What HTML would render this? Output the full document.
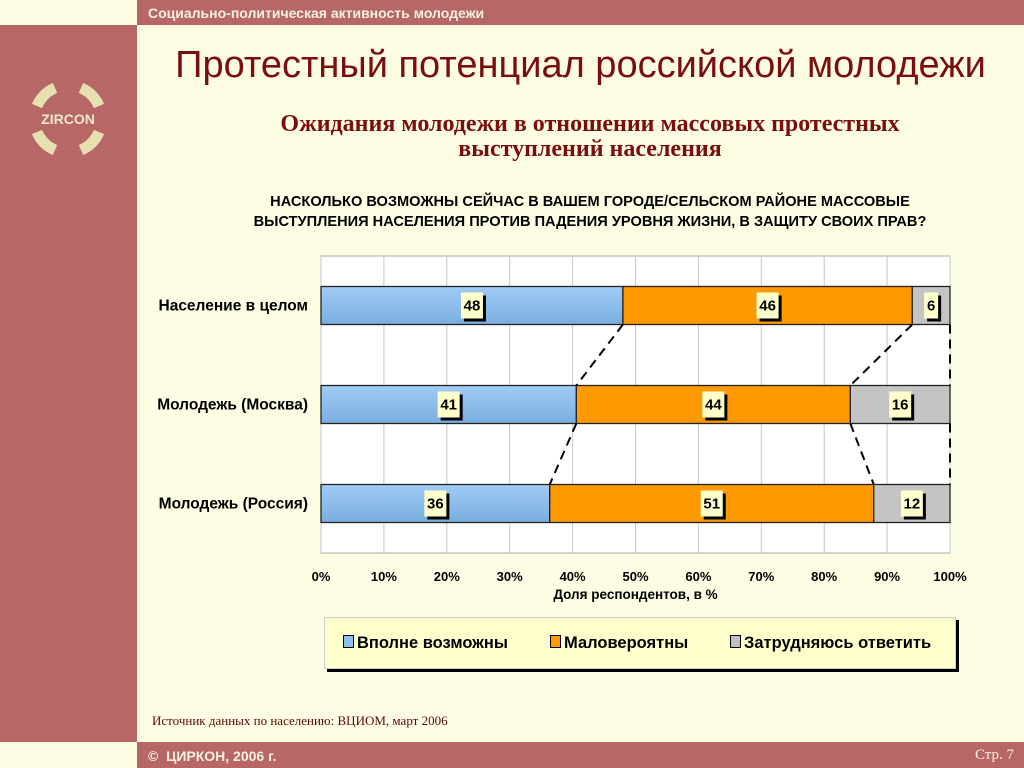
<!DOCTYPE html>
<html><head><meta charset="utf-8"><style>
body{margin:0;width:1024px;height:768px;position:relative;background:#fdfde3;font-family:"Liberation Sans",sans-serif;overflow:hidden}
.abs{position:absolute}
</style></head><body>
<div class="abs" style="left:137px;top:0;width:887px;height:25px;background:#b76866"></div>
<div class="abs" style="left:148px;top:5px;color:#f5f0e0;font-size:14px;font-weight:bold">Социально-политическая активность молодежи</div>
<div class="abs" style="left:0;top:25px;width:137px;height:717px;background:#b76866"></div>
<svg class="abs" style="left:25px;top:76px" width="86" height="86" viewBox="0 0 86 86">
<g fill="none" stroke="#e6e0b0" stroke-width="11">
<path d="M12 30 A34 34 0 0 1 30 12"/><path d="M56 12 A34 34 0 0 1 74 30"/>
<path d="M74 56 A34 34 0 0 1 56 74"/><path d="M30 74 A34 34 0 0 1 12 56"/></g>
<text x="43" y="48" text-anchor="middle" font-family="Liberation Sans" font-weight="bold" font-size="14" fill="#eee8c8">ZIRCON</text></svg>
<div class="abs" style="left:137px;top:742px;width:887px;height:26px;background:#b76866"></div>
<div class="abs" style="left:148px;top:748px;color:#f5f0e0;font-size:14px;font-weight:bold">©&nbsp; ЦИРКОН, 2006 г.</div>
<div class="abs" style="right:10px;top:747px;color:#f5f0e0;font-size:15px;font-family:'Liberation Serif',serif">Стр. 7</div>
<div class="abs" style="left:137px;width:887px;top:44px;text-align:center;color:#7a0e0e;font-size:38px">Протестный потенциал российской молодежи</div>
<div class="abs" style="left:150px;width:880px;top:112px;text-align:center;color:#7a0e0e;font-size:24px;font-weight:bold;font-family:'Liberation Serif',serif;line-height:25px">Ожидания молодежи в отношении массовых протестных<br>выступлений населения</div>
<div class="abs" style="left:150px;width:880px;top:192px;text-align:center;font-size:14.6px;font-weight:bold;line-height:20px">НАСКОЛЬКО ВОЗМОЖНЫ СЕЙЧАС В ВАШЕМ ГОРОДЕ/СЕЛЬСКОМ РАЙОНЕ МАССОВЫЕ<br>ВЫСТУПЛЕНИЯ НАСЕЛЕНИЯ ПРОТИВ ПАДЕНИЯ УРОВНЯ ЖИЗНИ, В ЗАЩИТУ СВОИХ ПРАВ?</div>
<svg id="chart" class="abs" style="left:0;top:0" width="1024" height="768">
<defs><linearGradient id="gb" x1="0" y1="0" x2="0" y2="1"><stop offset="0" stop-color="#a0ccf5"/><stop offset="1" stop-color="#7aaee0"/></linearGradient></defs>
</svg>
<div class="abs" style="left:321px;width:629px;top:587px;text-align:center;font-size:13.5px;font-weight:bold">Доля респондентов, в %</div>
<div class="abs" style="left:324px;top:617px;width:630px;height:50px;background:#ffffcc;border:1px solid #ccc;box-shadow:3px 3px 0 #000;font-size:16.5px;font-weight:bold">
<span class="abs" style="left:18px;top:16px"><span style="display:inline-block;width:9px;height:11px;background:#8ec0ef;border:1px solid #000;margin-right:3px"></span>Вполне возможны</span>
<span class="abs" style="left:225px;top:16px"><span style="display:inline-block;width:9px;height:11px;background:#ff9900;border:1px solid #000;margin-right:3px"></span>Маловероятны</span>
<span class="abs" style="left:405px;top:16px"><span style="display:inline-block;width:9px;height:11px;background:#c0c0c0;border:1px solid #000;margin-right:3px"></span>Затрудняюсь ответить</span>
</div>
<div class="abs" style="left:152px;top:713px;color:#5a0a0a;font-size:13px;font-family:'Liberation Serif',serif">Источник данных по населению: ВЦИОМ, март 2006</div>
<script>
const categories=["Население в целом","Молодежь (Москва)","Молодежь (Россия)"];
const possible=[48,41,36];
const unlikely=[46,44,51];
const hard=[6,16,12];
const ticks=[0,10,20,30,40,50,60,70,80,90,100];
const NS="http://www.w3.org/2000/svg",svg=document.getElementById('chart');
const X0=321,X1=950,Y0=256,Y1=553,band=(Y1-Y0)/3,bh=38;
const xs=p=>X0+(X1-X0)*p/100;
const yc=i=>Y0+band*i+band/2;
function mk(t,a,p){const e=document.createElementNS(NS,t);for(const k in a)e.setAttribute(k,a[k]);(p||svg).appendChild(e);return e;}
let e=mk('rect',{x:X0,y:Y0,width:X1-X0,height:Y1-Y0,fill:'#fff',stroke:'#aaa'});


ticks.forEach(t=>{
 let g=mk('line',{x1:xs(t),x2:xs(t),y1:Y0,y2:Y1,stroke:'#c8c8c8'});
 
 
 let l=mk('text',{x:xs(t),y:581,'text-anchor':'middle','font-size':13,'font-weight':'bold','font-family':'Liberation Sans'});
 l.textContent=t+'%';
 
 
});
const colors=['url(#gb)','#ff9900','#c4c4c4'];
const bounds=[];
categories.forEach((c,i)=>{
 const vals=[possible[i],unlikely[i],hard[i]],tot=vals.reduce((a,b)=>a+b,0);
 let cum=0;const b=[0];
 const cy=yc(i),y=cy-bh/2;
 let lab=mk('text',{x:308,y:cy+5,'text-anchor':'end','font-size':15.5,'font-weight':'bold','font-family':'Liberation Sans'});
 lab.textContent=c;
 
 
 vals.forEach((v,j)=>{
  const a=xs(cum/tot*100);cum+=v;const bb=xs(cum/tot*100);b.push(cum/tot*100);
  let r=mk('rect',{x:a,y:y,width:bb-a,height:bh,fill:colors[j],stroke:'#222','stroke-width':1.3});
  
  
  const m=(a+bb)/2,w=v>=10?22:14;
  mk('rect',{x:m-w/2+3,y:cy-13+3,width:w,height:26,fill:'#000'});
  mk('rect',{x:m-w/2,y:cy-13,width:w,height:26,fill:'#ffffcc'});
  let t=mk('text',{x:m,y:cy+5,'text-anchor':'middle','font-size':15,'font-weight':'bold','font-family':'Liberation Sans'});
  t.textContent=v;
  
  
 });
 bounds.push(b);
});
for(let i=0;i<categories.length-1;i++){
 for(let k=1;k<=3;k++){
  let s=mk('line',{x1:xs(bounds[i][k]),y1:yc(i)+bh/2,x2:xs(bounds[i+1][k]),y2:yc(i+1)-bh/2,stroke:'#000','stroke-width':2,'stroke-dasharray':'9,6'});
  
  
 }
}
</script>
</body></html>
